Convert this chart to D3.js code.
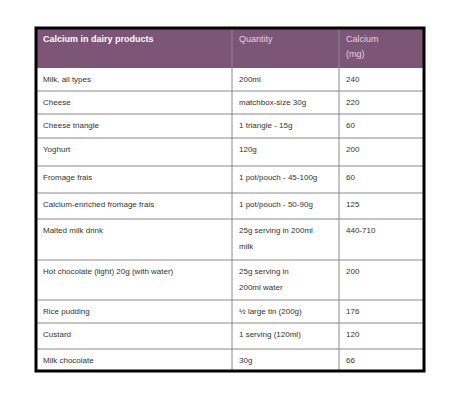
<!DOCTYPE html>
<html>
<head>
<meta charset="UTF-8">
<script src="https://cdn.jsdelivr.net/npm/d3@7"></script>
<style>
  body { margin: 0; background: white; }
  text { font-family: "Liberation Sans", Arial, sans-serif; font-size: 8px; }
</style>
</head>
<body>
<div id="chart"></div>
<script>
const headers = [["Calcium in dairy products"], ["Quantity"], ["Calcium", "(mg)"]];
const products = ["Milk, all types", "Cheese", "Cheese triangle", "Yoghurt", "Fromage frais",
  "Calcium-enriched fromage frais", "Malted milk drink", "Hot chocolate (light) 20g (with water)",
  "Rice pudding", "Custard", "Milk chocolate"];
const quantities = [["200ml"], ["matchbox-size 30g"], ["1 triangle - 15g"], ["120g"],
  ["1 pot/pouch - 45-100g"], ["1 pot/pouch - 50-90g"], ["25g serving in 200ml", "milk"],
  ["25g serving in", "200ml water"], ["½ large tin (200g)"], ["1 serving (120ml)"], ["30g"]];
const calcium = ["240", "220", "60", "200", "60", "125", "440-710", "200", "176", "120", "66"];
// relative row heights
const rowUnits = [23, 23, 24, 28, 27, 26, 41, 40, 23, 26, 22];

const W = 459, H = 403;
const tLeft = 36, tRight = 424, tTop = 28, headBottom = 68, tBottom = 371;
const svg = d3.select('#chart').append('svg').attr('width', W).attr('height', H);

const cum = [0];
rowUnits.forEach(u => cum.push(cum[cum.length - 1] + u));
const y = d3.scaleLinear().domain([0, cum[cum.length - 1]]).range([headBottom, tBottom]);
const colEdges = [tLeft, 232, 339, tRight];

// header
svg.append('rect').attr('x', tLeft).attr('y', tTop).attr('width', tRight - tLeft)
  .attr('height', headBottom - tTop).attr('fill', '#7d5577');
headers.forEach((lines, c) => {
  lines.forEach((t, k) => {
    svg.append('text').attr('x', colEdges[c] + 7).attr('y', tTop + 14 + k * 15)
      .attr('fill', c === 0 ? '#ffffff' : '#e6d3e2')
      .attr('font-weight', c === 0 ? 'bold' : 'normal')
      .style('font-size', '9px').text(t);
  });
});

// row lines
svg.selectAll('line.row').data(cum.slice(1, -1)).enter().append('line')
  .attr('x1', tLeft).attr('x2', tRight).attr('y1', d => y(d)).attr('y2', d => y(d))
  .attr('stroke', '#8a8a8a').attr('stroke-width', 1);
// column lines
svg.selectAll('line.col').data(colEdges.slice(1, -1)).enter().append('line')
  .attr('x1', d => d).attr('x2', d => d).attr('y1', tTop).attr('y2', tBottom)
  .attr('stroke', '#8a8a8a').attr('stroke-width', 1);

// cells
products.forEach((p, i) => {
  const y0 = y(cum[i]);
  const cells = [[p], quantities[i], [calcium[i]]];
  cells.forEach((lines, c) => {
    lines.forEach((t, k) => {
      svg.append('text').attr('x', colEdges[c] + 7).attr('y', y0 + 14 + k * 16)
        .attr('fill', '#333').text(t);
    });
  });
});

// outer border
svg.append('rect').attr('x', tLeft).attr('y', tTop).attr('width', tRight - tLeft)
  .attr('height', tBottom - tTop).attr('fill', 'none').attr('stroke', '#000').attr('stroke-width', 3);
</script>
</body>
</html>
